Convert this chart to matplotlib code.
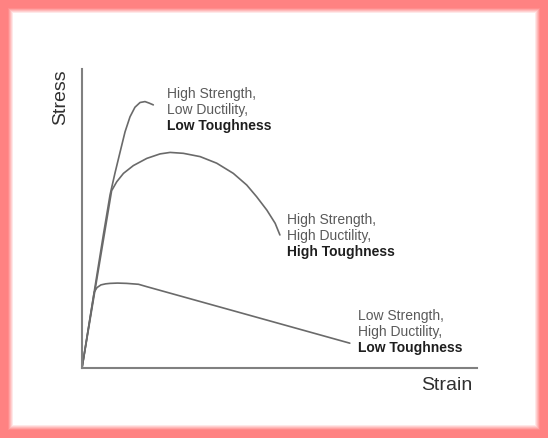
import numpy as np
import matplotlib
matplotlib.use("Agg")
import matplotlib.pyplot as plt

plt.rcParams['font.family'] = ['Liberation Sans', 'DejaVu Sans']

# Curve data (strain, stress) in arbitrary units
low_duct_strain = [0, 5.4, 7.1, 8.35, 9.6, 10.9, 12.15, 13.4, 14.7, 15.95, 17.0, 18.05]
low_duct_stress = [0, 44.5, 57.9, 65.2, 72.0, 79.0, 84.0, 87.2, 88.8, 89.1, 88.6, 88.0]

high_tough_strain = [0, 7.5, 8.8, 10.5, 13.0, 16.4, 19.75, 22.3, 25.65, 29.9, 34.1, 38.3, 41.7,
                     44.2, 46.8, 48.9, 50.1]
high_tough_stress = [0, 59.3, 62.3, 65.1, 67.7, 70.1, 71.6, 72.1, 71.8, 70.7, 68.5, 65.1, 61.2,
                     57.3, 52.8, 48.4, 44.5]

low_str_strain = [0, 3.1, 3.8, 4.8, 6.0, 7.1, 9.0, 11.3, 14.3, 16.4, 67.8]
low_str_stress = [0, 25.4, 26.9, 27.8, 28.15, 28.3, 28.4, 28.3, 28.0, 27.2, 8.3]

labels = [
    ("High Strength,", "Low Ductility,", "Low Toughness"),
    ("High Strength,", "High Ductility,", "High Toughness"),
    ("Low Strength,", "High Ductility,", "Low Toughness"),
]
label_x = [21.4, 51.8, 70.0]
label_y = [90.4, 48.2, 16.1]

W, H = 548, 438
fig = plt.figure(figsize=(W / 100, H / 100), dpi=100)

# pink glowing frame
yy, xx = np.mgrid[0:H, 0:W]
d = np.minimum(np.minimum(xx, W - 1 - xx), np.minimum(yy, H - 1 - yy)).astype(float)
t = np.clip((d - 7.5) / 5.5, 0, 1)
edge = np.array([255, 130, 130]) / 255.0
img = edge[None, None, :] * (1 - t[..., None]) + 1.0 * t[..., None]
fig.figimage(img, xo=0, yo=0, zorder=0)

ax = fig.add_axes([82 / W, (H - 368) / H, 395 / W, 299 / H])
ax.set_zorder(2)
ax.patch.set_visible(False)
ax.set_xlim(0, 100)
ax.set_ylim(0, 100)
for s in ['top', 'right']:
    ax.spines[s].set_visible(False)
for s in ['left', 'bottom']:
    ax.spines[s].set_color('#808080')
    ax.spines[s].set_linewidth(1.5)
ax.set_xticks([])
ax.set_yticks([])

lc = '#6a6a6a'
for xs, ys in [(low_duct_strain, low_duct_stress),
               (high_tough_strain, high_tough_stress),
               (low_str_strain, low_str_stress)]:
    ax.plot(xs, ys, color=lc, lw=1.2, solid_joinstyle='round',
            solid_capstyle='round', clip_on=False)

dy = 16.3 / 2.99
for (l1, l2, l3), x, y in zip(labels, label_x, label_y):
    ax.text(x, y, l1, fontsize=10, color='#5a5a5a', va='baseline', ha='left')
    ax.text(x, y - dy, l2, fontsize=10, color='#5a5a5a', va='baseline', ha='left')
    ax.text(x, y - 2 * dy, l3, fontsize=10, color='#1e1e1e', fontweight='bold',
            va='baseline', ha='left')

fig.text(472.7 / W, (H - 389.7) / H, "Strain", fontsize=14, color='#303030',
         ha='right', va='baseline')
fig.text(69.5 / W, (H - 69.5) / H, "Stress", fontsize=14, color='#303030',
         ha='right', va='top', rotation=90)

fig.savefig("out.png", dpi=100)
